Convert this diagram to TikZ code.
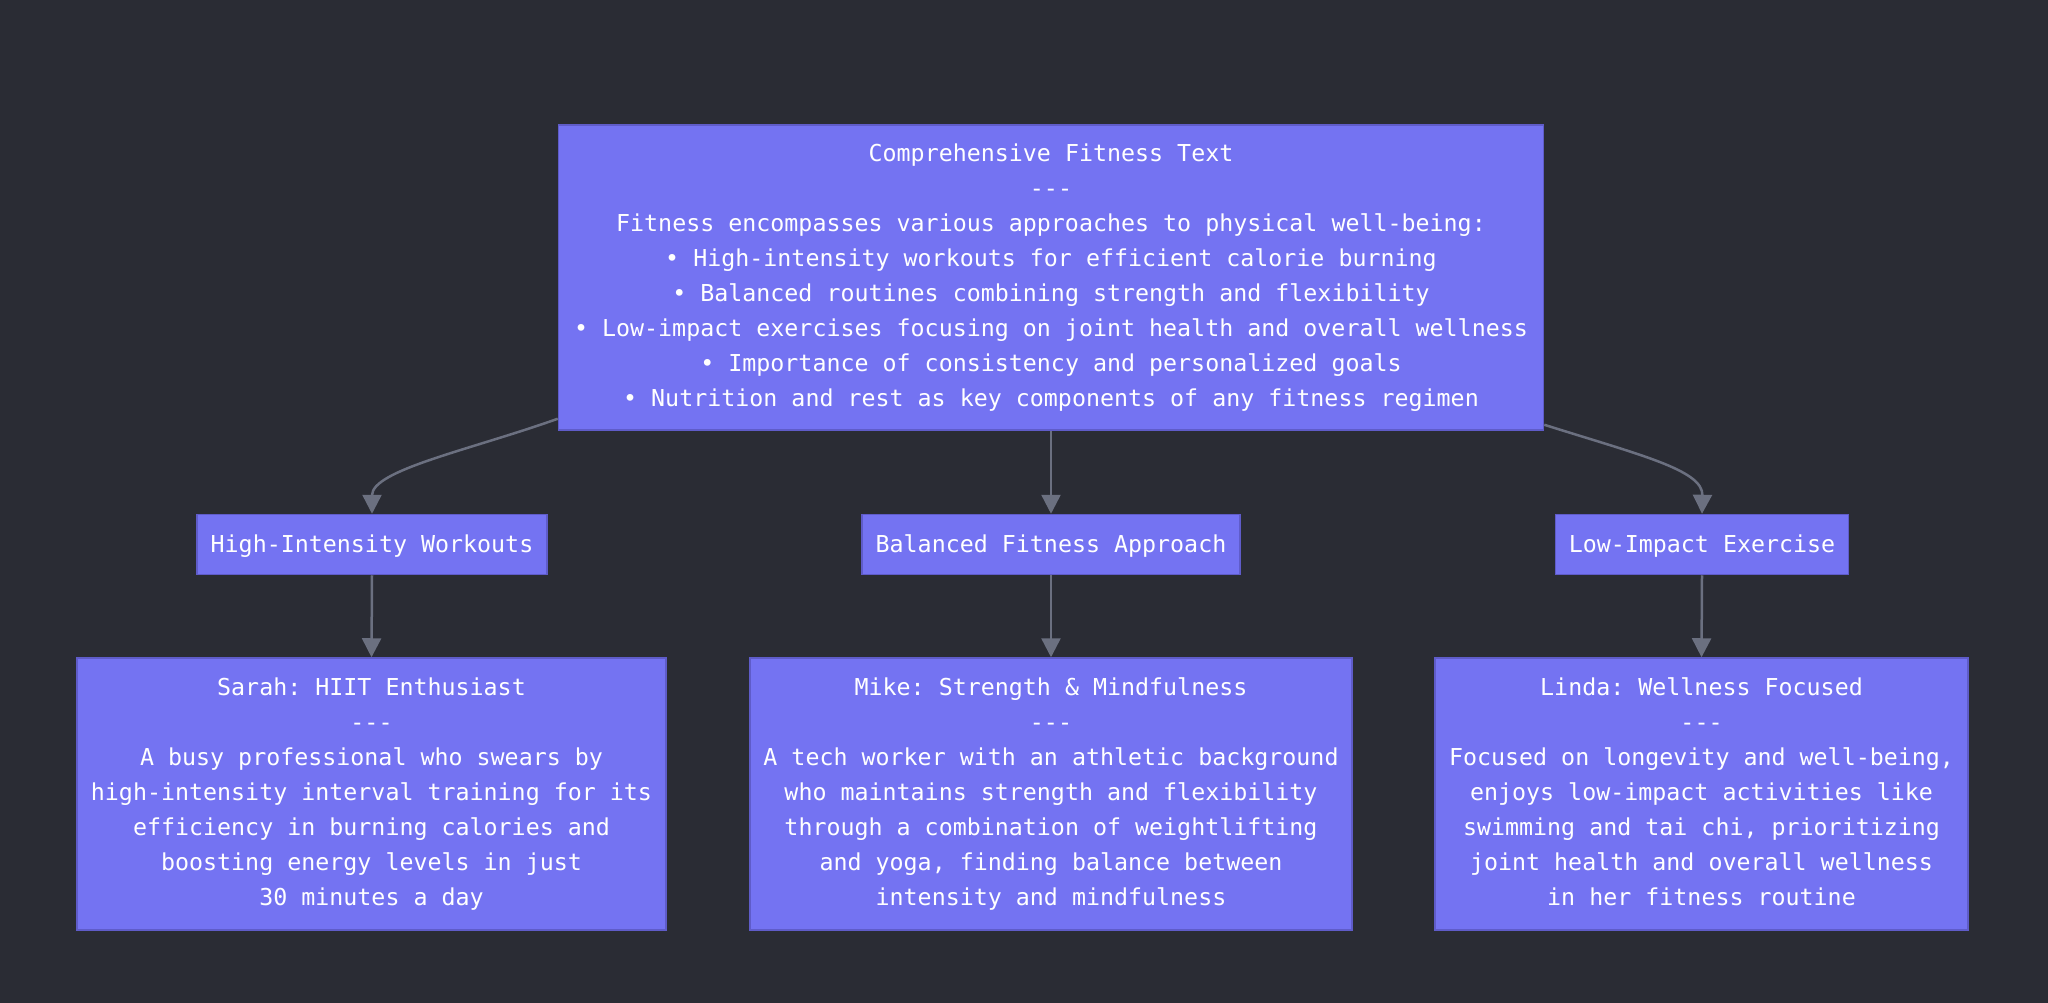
\documentclass[tikz,border=0pt]{standalone}
\usepackage{fontspec}
\setmonofont{DejaVu Sans Mono}
\usetikzlibrary{arrows.meta}

\definecolor{canvas}{HTML}{2A2C34}
\definecolor{boxfill}{HTML}{7473F2}
\definecolor{boxline}{HTML}{5F5CC9}
\definecolor{edgegray}{HTML}{6B7080}

\tikzset{
	card/.style={draw=boxline, line width=1.5pt, fill=boxfill, text=white, align=center, inner sep=0pt, font=\ttfamily\fontsize{23.3}{35}\selectfont,
		execute at begin node={\rule{0pt}{21pt}}, execute at end node={\rule[-5.5pt]{0pt}{0pt}}},
	link/.style={draw=edgegray, line width=2.5pt, -{Triangle[length=19pt, width=19pt]}},
}

\begin{document}
\begin{tikzpicture}[x=1pt, y=-1pt]
	\fill[canvas] (0,0) rectangle (2048,1003);

	\node[card, minimum width=985pt, minimum height=305pt] (fitness) at (1051,277.5) {Comprehensive Fitness Text\\---\\Fitness encompasses various approaches to physical well-being:\\• High-intensity workouts for efficient calorie burning\\• Balanced routines combining strength and flexibility\\• Low-impact exercises focusing on joint health and overall wellness\\• Importance of consistency and personalized goals\\• Nutrition and rest as key components of any fitness regimen};

	\node[card, minimum width=350pt, minimum height=60pt] (high) at (372,544.5) {High-Intensity Workouts};
	\node[card, minimum width=378pt, minimum height=60pt] (balanced) at (1051,544.5) {Balanced Fitness Approach};
	\node[card, minimum width=293pt, minimum height=60pt] (low) at (1702,544.5) {Low-Impact Exercise};

	\node[card, minimum width=589pt, minimum height=272pt] (sarah) at (371.5,794) {Sarah: HIIT Enthusiast\\---\\A busy professional who swears by\\high-intensity interval training for its\\efficiency in burning calories and\\boosting energy levels in just\\30 minutes a day};
	\node[card, minimum width=602pt, minimum height=272pt] (mike) at (1051,794) {Mike: Strength \& Mindfulness\\---\\A tech worker with an athletic background\\who maintains strength and flexibility\\through a combination of weightlifting\\and yoga, finding balance between\\intensity and mindfulness};
	\node[card, minimum width=533pt, minimum height=272pt] (linda) at (1701.5,794) {Linda: Wellness Focused\\---\\Focused on longevity and well-being,\\enjoys low-impact activities like\\swimming and tai chi, prioritizing\\joint health and overall wellness\\in her fitness routine};

	\draw[link] ([yshift=12pt]fitness.south west) .. controls (470,450) and (372,470) .. (high.north);
	\draw[link] (fitness.south) -- (balanced.north);
	\draw[link] ([yshift=6pt]fitness.south east) .. controls (1640,455) and (1703,470) .. (low.north);

	\draw[link] (high.south) -- (sarah.north);
	\draw[link] (balanced.south) -- (mike.north);
	\draw[link] (low.south) -- (linda.north);

\end{tikzpicture}
\end{document}
